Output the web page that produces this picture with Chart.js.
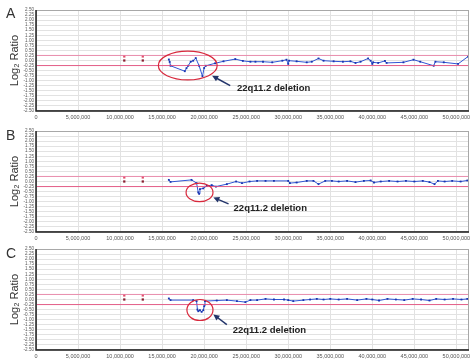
<!DOCTYPE html>
<html>
<head>
<meta charset="utf-8">
<script src="https://cdn.jsdelivr.net/npm/chart.js@4.4.1/dist/chart.umd.min.js"></script>
<style>
  body { margin: 0; background: #fff; width: 474px; height: 363px; overflow: hidden; position: relative;
         font-family: Arial, "Liberation Sans", sans-serif; }
  .panel { position: absolute; left: 0; width: 474px; height: 121px; }
  .panel canvas { position: absolute; left: 0; top: 0; }
  .letter { position: absolute; left: 6px; font-size: 14px; line-height: 14px; color: #333; }
</style>
</head>
<body>
<div class="panel" style="top:0px"><canvas id="chartA" width="474" height="121"></canvas><div class="letter" style="top:6px">A</div></div>
<div class="panel" style="top:121px"><canvas id="chartB" width="474" height="121"></canvas><div class="letter" style="top:7px">B</div></div>
<div class="panel" style="top:239px"><canvas id="chartC" width="474" height="121"></canvas><div class="letter" style="top:7px">C</div></div>
<script>
// chromosome 22 positions in Mb, log2 ratios
const posA = [15.8, 15.9, 16.0, 17.7, 17.9, 18.1, 18.4, 18.7, 19.0, 19.4, 19.8, 20.0, 20.2, 21.3, 22.3, 23.7,
  24.6, 25.5, 26.1, 27.0, 28.1, 29.3, 29.8, 30.0, 30.1, 31.0, 32.2, 32.8, 33.6, 34.2, 35.4, 36.5, 37.4, 38.0,
  38.6, 39.5, 39.8, 40.0, 40.1, 40.7, 41.5, 41.7, 43.7, 44.9, 45.7, 47.3, 47.5, 48.5, 50.2, 51.4];
const ratioA = [0.05, -0.07, -0.26, -0.53, -0.38, -0.26, -0.06, -0.01, 0.12, -0.26, -0.78, -0.37, -0.26, -0.14, -0.04, 0.07,
  -0.02, -0.06, -0.06, -0.06, -0.09, -0.01, 0.04, -0.17, -0.01, -0.04, -0.09, -0.06, 0.10, -0.01, -0.04, -0.06, -0.04, -0.12,
  -0.06, 0.10, -0.01, -0.17, -0.09, -0.12, -0.02, -0.12, -0.09, 0.04, -0.06, -0.26, -0.06, -0.09, -0.17, 0.20];

const posB = [15.8, 16.0, 18.5, 19.1, 19.3, 19.4, 19.5, 19.9, 20.3, 20.9, 21.4, 22.7, 23.8, 24.5, 25.4, 26.3, 27.3,
  28.3, 30.0, 30.2, 31.0, 32.2, 33.0, 33.6, 34.4, 35.2, 36.0, 37.0, 38.0, 39.0, 39.8, 40.2, 41.0, 42.0, 43.0,
  44.0, 45.0, 46.0, 46.8, 47.4, 47.8, 48.6, 49.5, 50.5, 51.3];
const ratioB = [0.08, -0.02, 0.08, -0.08, -0.54, -0.61, -0.38, -0.34, -0.22, -0.18, -0.25, -0.13, 0.00, -0.08, 0.00, 0.03, 0.03,
  0.03, 0.03, -0.08, -0.05, 0.03, 0.03, -0.13, 0.03, 0.03, 0.00, 0.03, -0.03, 0.03, 0.05, -0.05, 0.00, 0.03, 0.00,
  0.03, 0.00, 0.03, -0.03, -0.13, 0.03, 0.00, 0.03, 0.00, 0.05];

const posC = [15.8, 16.0, 18.7, 19.1, 19.2, 19.3, 19.5, 19.7, 19.9, 20.0, 20.1, 21.5, 22.7, 23.9, 24.9, 25.5, 26.3,
  27.3, 28.3, 29.5, 30.0, 30.6, 31.8, 32.6, 33.4, 34.2, 35.0, 36.0, 37.0, 38.2, 39.3, 40.0, 40.8, 41.8, 42.8,
  43.8, 44.8, 45.8, 46.8, 47.6, 48.6, 49.6, 50.6, 51.3];
const ratioC = [0.05, -0.03, -0.03, -0.08, -0.50, -0.58, -0.53, -0.61, -0.53, -0.33, -0.08, -0.05, -0.03, -0.08, -0.13, -0.03, -0.03,
  0.03, 0.00, 0.00, -0.03, -0.08, -0.03, 0.00, 0.03, 0.00, 0.03, 0.00, 0.03, -0.03, 0.03, 0.00, -0.05, 0.03, 0.00,
  -0.03, 0.03, 0.00, -0.05, 0.03, 0.00, 0.03, 0.00, 0.03];

// the small red probes left of the centromere gap (same in all panels)
const markerPos = [10.5, 10.5, 12.7, 12.7];
const markerRatio = [0.2, 0.0, 0.2, 0.0];

const threshold = [0.25, -0.25];
const xMax = 51.5;
const yTicks = [2.5, -2.5, 0.25];   // max, min, step
const xStep = 5;
const noteText = '22q11.2 deletion';

// circle + arrow around the deletion, in data units
const noteA = { cx: 18.05, cy: -0.25, rx: 3.5, ry: 0.71, ax1: 23.1, ay1: -1.24, ax2: 20.95, ay2: -0.76, tx: 23.9, ty: -1.4 };
const noteB = { cx: 19.45, cy: -0.54, rx: 1.6, ry: 0.46, ax1: 22.9, ay1: -1.11, ax2: 21.1, ay2: -0.79, tx: 23.5, ty: -1.33 };
const noteC = { cx: 19.5, cy: -0.52, rx: 1.55, ry: 0.52, ax1: 22.7, ay1: -1.24, ax2: 21.1, ay2: -0.74, tx: 23.4, ty: -1.52 };

const framePlugin = {
  id: 'frame',
  afterDraw(chart) {
    const { ctx, chartArea: a } = chart;
    ctx.save();
    ctx.strokeStyle = '#a8a8a8';
    ctx.lineWidth = 1;
    ctx.strokeRect(a.left + 0.5, a.top + 0.5, a.right - a.left - 1, a.bottom - a.top - 1);
    ctx.strokeStyle = '#222';
    ctx.lineWidth = 1.5;
    ctx.beginPath();
    ctx.moveTo(a.left, a.top);
    ctx.lineTo(a.left, a.bottom);
    ctx.lineTo(a.right, a.bottom);
    ctx.stroke();
    ctx.restore();
  }
};

const notePlugin = {
  id: 'note',
  afterDatasetsDraw(chart, args, o) {
    const x = chart.scales.x, y = chart.scales.y, ctx = chart.ctx;
    const cx = x.getPixelForValue(o.cx), cy = y.getPixelForValue(o.cy);
    const rx = Math.abs(x.getPixelForValue(o.cx + o.rx) - cx);
    const ry = Math.abs(y.getPixelForValue(o.cy + o.ry) - cy);
    ctx.save();
    ctx.strokeStyle = '#d8283c';
    ctx.lineWidth = 1.2;
    ctx.beginPath();
    ctx.ellipse(cx, cy, rx, ry, 0, 0, Math.PI * 2);
    ctx.stroke();

    // arrow
    const x1 = x.getPixelForValue(o.ax1), y1 = y.getPixelForValue(o.ay1);
    const x2 = x.getPixelForValue(o.ax2), y2 = y.getPixelForValue(o.ay2);
    const ang = Math.atan2(y2 - y1, x2 - x1);
    ctx.strokeStyle = '#23346a';
    ctx.fillStyle = '#23346a';
    ctx.lineWidth = 1.5;
    ctx.beginPath();
    ctx.moveTo(x1, y1);
    ctx.lineTo(x2 - 3 * Math.cos(ang), y2 - 3 * Math.sin(ang));
    ctx.stroke();
    ctx.beginPath();
    ctx.moveTo(x2, y2);
    ctx.lineTo(x2 - 6 * Math.cos(ang) + 3 * Math.sin(ang), y2 - 6 * Math.sin(ang) - 3 * Math.cos(ang));
    ctx.lineTo(x2 - 6 * Math.cos(ang) - 3 * Math.sin(ang), y2 - 6 * Math.sin(ang) + 3 * Math.cos(ang));
    ctx.closePath();
    ctx.fill();

    ctx.fillStyle = '#222';
    ctx.font = 'bold 9.5px Arial, "Liberation Sans", sans-serif';
    ctx.textBaseline = 'middle';
    ctx.fillText(noteText, x.getPixelForValue(o.tx), y.getPixelForValue(o.ty));
    ctx.restore();
  }
};

function makePanel(id, pos, ratio, note) {
  const pts = pos.map((p, i) => ({ x: p, y: ratio[i] }));
  const marks = markerPos.map((p, i) => ({ x: p, y: markerRatio[i] }));
  const config = {
    type: 'line',
    data: {
      datasets: [
        {
          data: [{ x: 0, y: threshold[0] }, { x: xMax, y: threshold[0] }],
          borderColor: 'rgba(236, 120, 160, 0.8)', borderWidth: 1, pointRadius: 0
        },
        {
          data: [{ x: 0, y: threshold[1] }, { x: xMax, y: threshold[1] }],
          borderColor: 'rgba(228, 70, 120, 0.85)', borderWidth: 1, pointRadius: 0
        },
        {
          data: marks, showLine: false, pointStyle: 'rect', pointRadius: 1.6,
          pointBackgroundColor: ['#e0506a', '#8a1e30', '#e0506a', '#8a1e30'], pointBorderWidth: 0
        },
        {
          data: pts, borderColor: '#2f55d4', borderWidth: 1, tension: 0,
          pointStyle: 'rect', pointRadius: 1.3, pointBackgroundColor: '#1a35b0', pointBorderWidth: 0
        }
      ]
    },
    options: {
      responsive: false,
      animation: false,
      layout: { padding: { top: 10, right: 5, left: 0, bottom: 0 } },
      plugins: { legend: { display: false }, tooltip: { enabled: false }, note: note },
      scales: {
        x: {
          type: 'linear', min: 0, max: xMax,
          afterFit: s => { s.height = 10; },
          border: { display: false },
          grid: { color: '#e2e2e2', drawTicks: false },
          ticks: {
            stepSize: xStep, autoSkip: false, maxRotation: 0, padding: 3, includeBounds: false,
            color: '#555', font: { size: 5.5, family: 'Arial, "Liberation Sans"' },
            callback: v => (v * 1000000).toLocaleString('en-US')
          }
        },
        y: {
          min: yTicks[1], max: yTicks[0],
          afterFit: s => { s.width = 36; },
          border: { display: false },
          grid: { color: '#e2e2e2', drawTicks: false },
          title: {
            display: true, text: 'Log₂ Ratio', color: '#333',
            font: { size: 11, family: 'Arial, "Liberation Sans"' }, padding: { top: 8, bottom: 0 }
          },
          ticks: {
            stepSize: yTicks[2], autoSkip: false, padding: 2,
            color: '#555', font: { size: 4.6, family: 'Arial, "Liberation Sans"' },
            callback: v => v.toFixed(2)
          }
        }
      }
    },
    plugins: [framePlugin, notePlugin]
  };
  return new Chart(document.getElementById(id), config);
}

makePanel('chartA', posA, ratioA, noteA);
makePanel('chartB', posB, ratioB, noteB);
makePanel('chartC', posC, ratioC, noteC);
</script>
</body>
</html>
